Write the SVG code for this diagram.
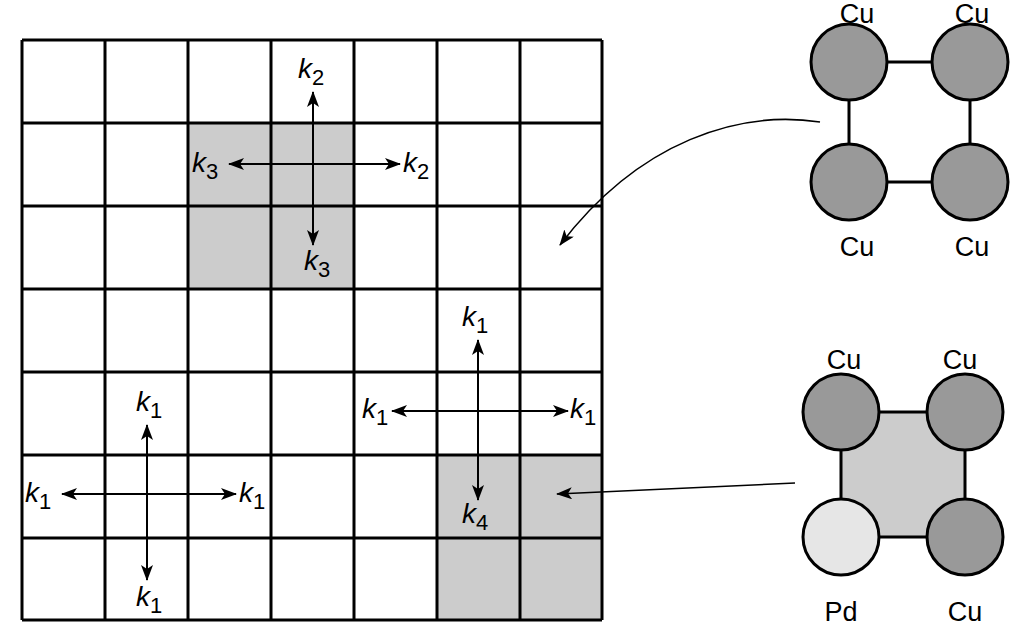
<svg xmlns="http://www.w3.org/2000/svg" width="1024" height="628" viewBox="0 0 1024 628">
<style>
.g{stroke:#000;stroke-width:3;fill:none}
.a{stroke:#000;stroke-width:2;fill:none;marker-start:url(#ah);marker-end:url(#ah)}
.s{stroke:#000;stroke-width:1.6;fill:none;marker-end:url(#ah)}
.k{font-family:"Liberation Sans",Arial,sans-serif;font-size:28px;font-style:italic}
.k tspan{font-style:normal;font-size:22px}
.l{font-family:"Liberation Sans",Arial,sans-serif;font-size:27px}
.c{stroke:#000;stroke-width:3;fill:#999}
</style>
<defs><marker id="ah" viewBox="0 0 16 12" refX="15" refY="6" markerWidth="16" markerHeight="12" markerUnits="userSpaceOnUse" orient="auto-start-reverse"><path d="M0,0 L16,6 L0,12 L4,6 z" fill="#000"/></marker></defs>
<rect width="1024" height="628" fill="#fff"/>
<g id="grid">
<rect x="188" y="123" width="166" height="166" fill="#ccc"/>
<rect x="437" y="455" width="165" height="165" fill="#ccc"/>
<path class="g" d="M22,40V620M105,40V620M188,40V620M271,40V620M354,40V620M437,40V620M520,40V620M602,40V620M22,40H602M22,123H602M22,206H602M22,289H602M22,372H602M22,455H602M22,538H602M22,620H602"/>
</g>
<g id="connectors">
<line class="a" x1="313" y1="92" x2="313" y2="245"/>
<line class="a" x1="229" y1="164" x2="400" y2="164"/>
<line class="a" x1="478" y1="340" x2="478" y2="500"/>
<line class="a" x1="392" y1="411" x2="568" y2="411"/>
<line class="a" x1="147" y1="425" x2="147" y2="580"/>
<line class="a" x1="62" y1="494" x2="236" y2="494"/>
<path class="s" d="M820,122 C740,110 640,140 560,245"/>
<line class="s" x1="795" y1="483" x2="557" y2="494"/>
</g>
<g id="labels">
<text class="k" x="298" y="78">k<tspan dy="7">2</tspan></text>
<text class="k" x="192" y="172">k<tspan dy="7">3</tspan></text>
<text class="k" x="403" y="172">k<tspan dy="7">2</tspan></text>
<text class="k" x="304" y="270">k<tspan dy="7">3</tspan></text>
<text class="k" x="462" y="326">k<tspan dy="7">1</tspan></text>
<text class="k" x="362" y="418">k<tspan dy="7">1</tspan></text>
<text class="k" x="570" y="418">k<tspan dy="7">1</tspan></text>
<text class="k" x="462" y="523">k<tspan dy="7">4</tspan></text>
<text class="k" x="136" y="411">k<tspan dy="7">1</tspan></text>
<text class="k" x="25" y="502">k<tspan dy="7">1</tspan></text>
<text class="k" x="239" y="502">k<tspan dy="7">1</tspan></text>
<text class="k" x="136" y="606">k<tspan dy="7">1</tspan></text>
</g>
<g id="molecule-cu">
<path class="g" d="M849,62H970V182H849Z"/>
<circle class="c" cx="849" cy="62" r="38"/>
<circle class="c" cx="970" cy="62" r="38"/>
<circle class="c" cx="849" cy="182" r="38"/>
<circle class="c" cx="970" cy="182" r="38"/>
<text class="l" x="857" y="23" text-anchor="middle">Cu</text>
<text class="l" x="972" y="23" text-anchor="middle">Cu</text>
<text class="l" x="857" y="256" text-anchor="middle">Cu</text>
<text class="l" x="972" y="256" text-anchor="middle">Cu</text>
</g>
<g id="molecule-pd">
<path class="g" d="M841,412H965V537H841Z" style="fill:#ccc"/>
<circle class="c" cx="841" cy="412" r="38"/>
<circle class="c" cx="965" cy="412" r="38"/>
<circle class="c" cx="841" cy="537" r="38" style="fill:#e6e6e6"/>
<circle class="c" cx="965" cy="537" r="38"/>
<text class="l" x="844" y="369" text-anchor="middle">Cu</text>
<text class="l" x="960" y="369" text-anchor="middle">Cu</text>
<text class="l" x="841" y="621" text-anchor="middle">Pd</text>
<text class="l" x="965" y="621" text-anchor="middle">Cu</text>
</g>
</svg>
